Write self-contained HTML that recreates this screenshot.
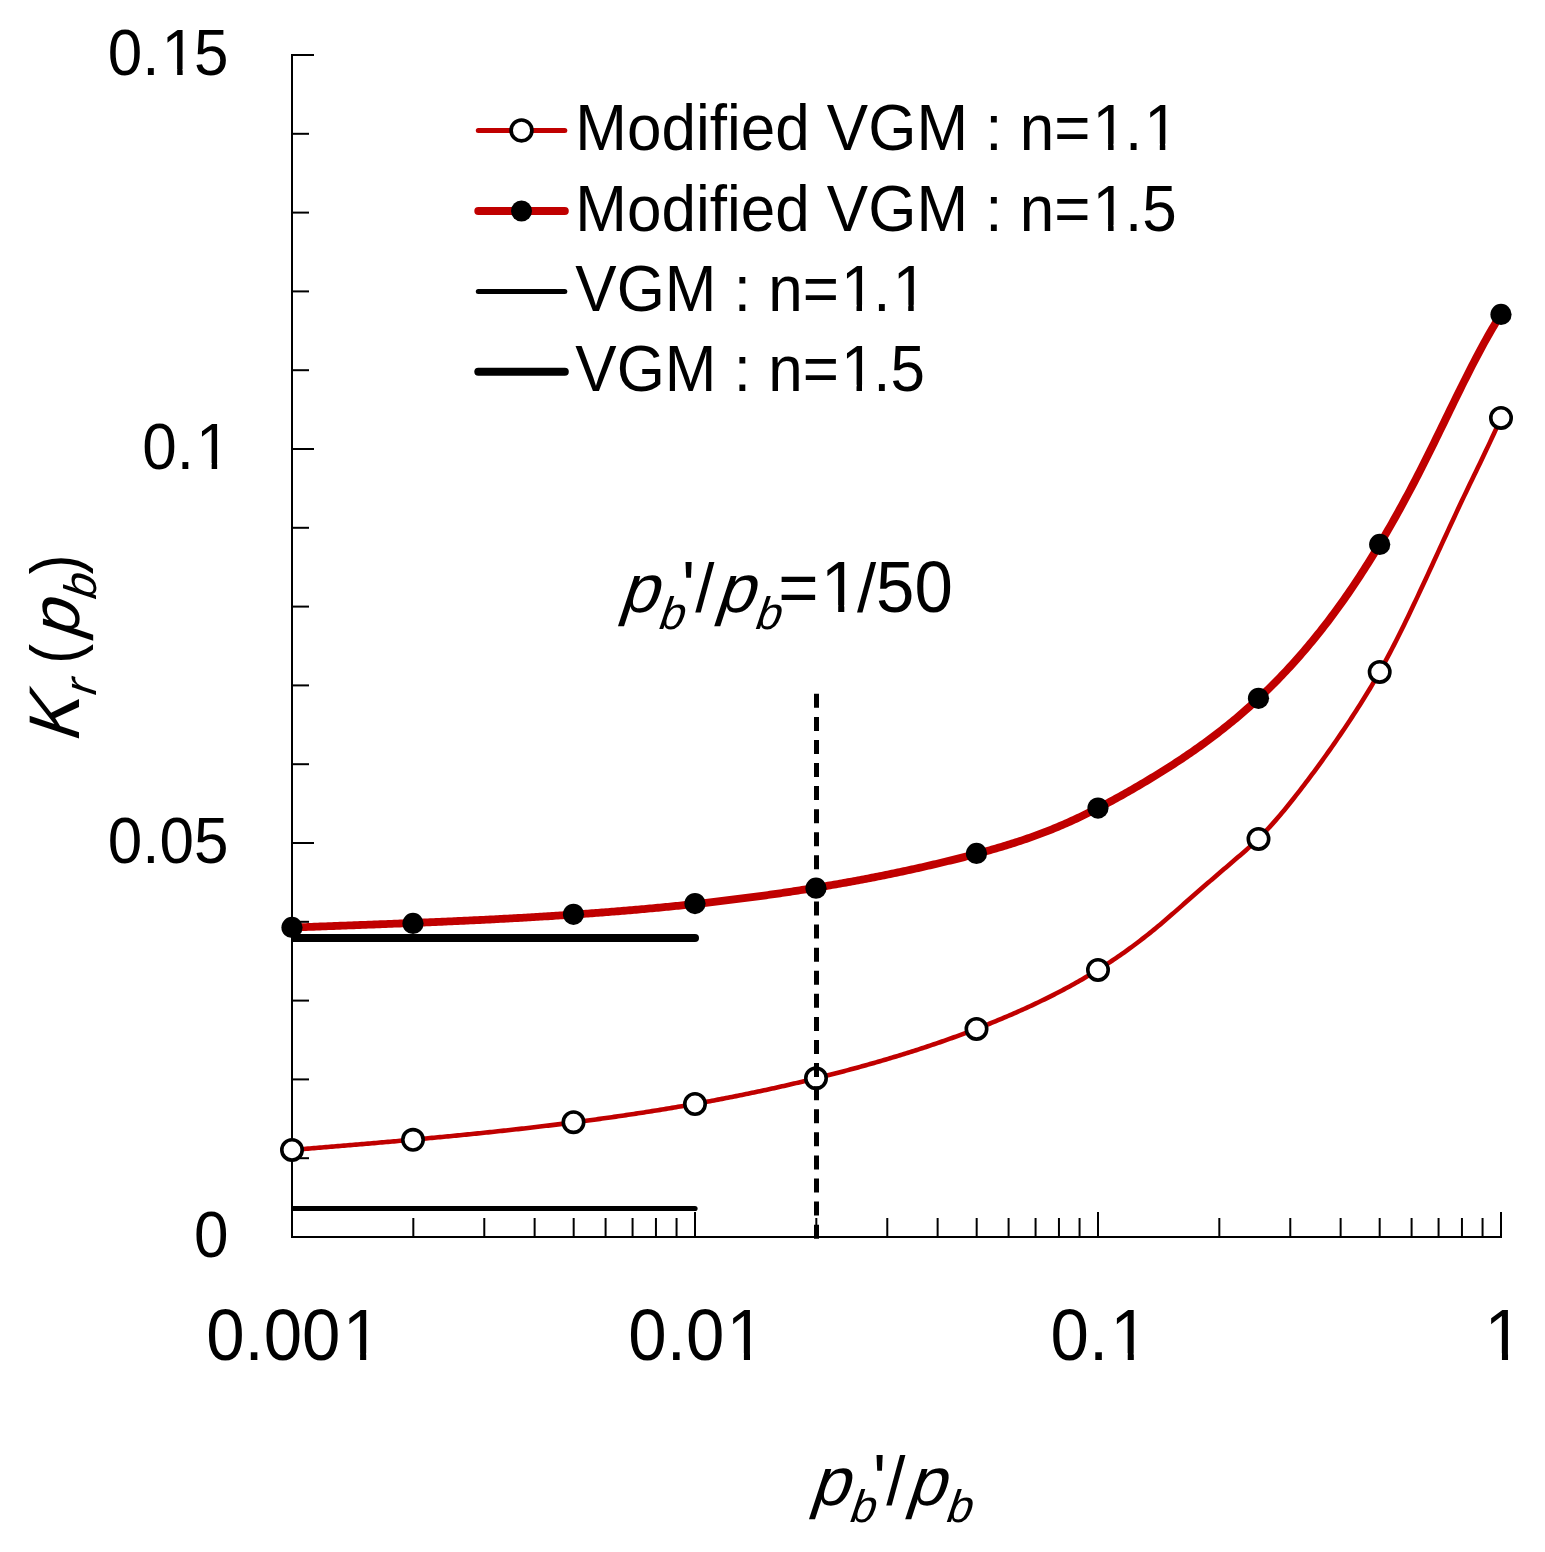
<!DOCTYPE html>
<html><head><meta charset="utf-8"><title>Kr plot</title>
<style>
html,body{margin:0;padding:0;background:#fff;}
svg{display:block;}
text{font-family:"Liberation Sans",Arial,sans-serif;fill:#000;font-kerning:none;white-space:pre;}
</style></head>
<body>
<svg width="1545" height="1552" viewBox="0 0 1545 1552">
<rect width="1545" height="1552" fill="#fff"/>
<defs><clipPath id="one62" clipPathUnits="userSpaceOnUse"><rect x="-20" y="-200" width="102" height="194.17"/><rect x="15.591" y="-20" width="5.479" height="40"/></clipPath><clipPath id="one69" clipPathUnits="userSpaceOnUse"><rect x="-20" y="-200" width="109" height="193.65"/><rect x="17.351" y="-20" width="6.098" height="40"/></clipPath></defs>
<line x1="292.0" y1="54.0" x2="292.0" y2="1238.0" stroke="#000" stroke-width="2"/>
<line x1="291.0" y1="1237.0" x2="1502" y2="1237.0" stroke="#000" stroke-width="2"/>
<line x1="292.0" y1="1158.20" x2="309.0" y2="1158.20" stroke="#000" stroke-width="2"/>
<line x1="292.0" y1="1079.40" x2="309.0" y2="1079.40" stroke="#000" stroke-width="2"/>
<line x1="292.0" y1="1000.60" x2="309.0" y2="1000.60" stroke="#000" stroke-width="2"/>
<line x1="292.0" y1="921.80" x2="309.0" y2="921.80" stroke="#000" stroke-width="2"/>
<line x1="292.0" y1="843.00" x2="314.0" y2="843.00" stroke="#000" stroke-width="2"/>
<line x1="292.0" y1="764.20" x2="309.0" y2="764.20" stroke="#000" stroke-width="2"/>
<line x1="292.0" y1="685.40" x2="309.0" y2="685.40" stroke="#000" stroke-width="2"/>
<line x1="292.0" y1="606.60" x2="309.0" y2="606.60" stroke="#000" stroke-width="2"/>
<line x1="292.0" y1="527.80" x2="309.0" y2="527.80" stroke="#000" stroke-width="2"/>
<line x1="292.0" y1="449.00" x2="314.0" y2="449.00" stroke="#000" stroke-width="2"/>
<line x1="292.0" y1="370.20" x2="309.0" y2="370.20" stroke="#000" stroke-width="2"/>
<line x1="292.0" y1="291.40" x2="309.0" y2="291.40" stroke="#000" stroke-width="2"/>
<line x1="292.0" y1="212.60" x2="309.0" y2="212.60" stroke="#000" stroke-width="2"/>
<line x1="292.0" y1="133.80" x2="309.0" y2="133.80" stroke="#000" stroke-width="2"/>
<line x1="292.0" y1="55.00" x2="314.0" y2="55.00" stroke="#000" stroke-width="2"/>
<line x1="413.32" y1="1237.0" x2="413.32" y2="1218.0" stroke="#000" stroke-width="2"/>
<line x1="484.28" y1="1237.0" x2="484.28" y2="1218.0" stroke="#000" stroke-width="2"/>
<line x1="534.63" y1="1237.0" x2="534.63" y2="1218.0" stroke="#000" stroke-width="2"/>
<line x1="573.68" y1="1237.0" x2="573.68" y2="1218.0" stroke="#000" stroke-width="2"/>
<line x1="605.59" y1="1237.0" x2="605.59" y2="1218.0" stroke="#000" stroke-width="2"/>
<line x1="632.57" y1="1237.0" x2="632.57" y2="1218.0" stroke="#000" stroke-width="2"/>
<line x1="655.95" y1="1237.0" x2="655.95" y2="1218.0" stroke="#000" stroke-width="2"/>
<line x1="676.56" y1="1237.0" x2="676.56" y2="1218.0" stroke="#000" stroke-width="2"/>
<line x1="695.00" y1="1237.0" x2="695.00" y2="1212.0" stroke="#000" stroke-width="2"/>
<line x1="816.32" y1="1237.0" x2="816.32" y2="1218.0" stroke="#000" stroke-width="2"/>
<line x1="887.28" y1="1237.0" x2="887.28" y2="1218.0" stroke="#000" stroke-width="2"/>
<line x1="937.63" y1="1237.0" x2="937.63" y2="1218.0" stroke="#000" stroke-width="2"/>
<line x1="976.68" y1="1237.0" x2="976.68" y2="1218.0" stroke="#000" stroke-width="2"/>
<line x1="1008.59" y1="1237.0" x2="1008.59" y2="1218.0" stroke="#000" stroke-width="2"/>
<line x1="1035.57" y1="1237.0" x2="1035.57" y2="1218.0" stroke="#000" stroke-width="2"/>
<line x1="1058.95" y1="1237.0" x2="1058.95" y2="1218.0" stroke="#000" stroke-width="2"/>
<line x1="1079.56" y1="1237.0" x2="1079.56" y2="1218.0" stroke="#000" stroke-width="2"/>
<line x1="1098.00" y1="1237.0" x2="1098.00" y2="1212.0" stroke="#000" stroke-width="2"/>
<line x1="1219.32" y1="1237.0" x2="1219.32" y2="1218.0" stroke="#000" stroke-width="2"/>
<line x1="1290.28" y1="1237.0" x2="1290.28" y2="1218.0" stroke="#000" stroke-width="2"/>
<line x1="1340.63" y1="1237.0" x2="1340.63" y2="1218.0" stroke="#000" stroke-width="2"/>
<line x1="1379.68" y1="1237.0" x2="1379.68" y2="1218.0" stroke="#000" stroke-width="2"/>
<line x1="1411.59" y1="1237.0" x2="1411.59" y2="1218.0" stroke="#000" stroke-width="2"/>
<line x1="1438.57" y1="1237.0" x2="1438.57" y2="1218.0" stroke="#000" stroke-width="2"/>
<line x1="1461.95" y1="1237.0" x2="1461.95" y2="1218.0" stroke="#000" stroke-width="2"/>
<line x1="1482.56" y1="1237.0" x2="1482.56" y2="1218.0" stroke="#000" stroke-width="2"/>
<line x1="1501.00" y1="1237.0" x2="1501.00" y2="1212.0" stroke="#000" stroke-width="2"/>
<text transform="translate(194.02,1257.00) scale(1,1.05)" font-size="62">0</text>
<text transform="translate(107.83,863.00) scale(1,1.05)" font-size="62">0.05</text>
<text transform="translate(142.31,469.00) scale(1,1.05)" font-size="62">0.</text><text transform="translate(196.06,469.00) scale(1,1.05)" font-size="62" clip-path="url(#one62)">1</text>
<text transform="translate(107.83,75.00) scale(1,1.05)" font-size="62">0.</text><text transform="translate(161.58,75.00) scale(1,1.05)" font-size="62" clip-path="url(#one62)">1</text><text transform="translate(194.02,75.00) scale(1,1.05)" font-size="62">5</text>
<text transform="translate(206.17,1360.00) scale(1,1.045)" font-size="69">0.00</text><text transform="translate(342.74,1360.00) scale(1,1.045)" font-size="69" clip-path="url(#one69)">1</text>
<text transform="translate(628.35,1360.00) scale(1,1.045)" font-size="69">0.0</text><text transform="translate(726.55,1360.00) scale(1,1.045)" font-size="69" clip-path="url(#one69)">1</text>
<text transform="translate(1050.54,1360.00) scale(1,1.045)" font-size="69">0.</text><text transform="translate(1110.36,1360.00) scale(1,1.045)" font-size="69" clip-path="url(#one69)">1</text>
<text transform="translate(1484.59,1360.00) scale(1,1.045)" font-size="69" clip-path="url(#one69)">1</text>
<line x1="291.0" y1="937.9" x2="695" y2="937.9" stroke="#000" stroke-width="8"/><circle cx="695" cy="937.9" r="4" fill="#000"/>
<line x1="291.0" y1="1208.5" x2="695" y2="1208.5" stroke="#000" stroke-width="5.2"/><circle cx="695" cy="1208.5" r="2.6" fill="#000"/>
<path d="M292.0,1149.95 L294.0,1149.79 L296.0,1149.62 L298.0,1149.46 L300.0,1149.29 L302.0,1149.13 L304.0,1148.96 L306.0,1148.80 L308.0,1148.63 L310.0,1148.47 L312.0,1148.30 L314.0,1148.13 L316.0,1147.97 L318.0,1147.80 L320.0,1147.64 L322.0,1147.47 L324.0,1147.31 L326.0,1147.14 L328.0,1146.97 L330.0,1146.81 L332.0,1146.64 L334.0,1146.47 L336.0,1146.31 L338.0,1146.14 L340.0,1145.97 L342.0,1145.81 L344.0,1145.64 L346.0,1145.47 L348.0,1145.30 L350.0,1145.13 L352.0,1144.96 L354.0,1144.80 L356.0,1144.63 L358.0,1144.46 L360.0,1144.29 L362.0,1144.12 L364.0,1143.95 L366.0,1143.78 L368.0,1143.60 L370.0,1143.43 L372.0,1143.26 L374.0,1143.09 L376.0,1142.92 L378.0,1142.74 L380.0,1142.57 L382.0,1142.40 L384.0,1142.22 L386.0,1142.05 L388.0,1141.87 L390.0,1141.70 L392.0,1141.52 L394.0,1141.35 L396.0,1141.17 L398.0,1140.99 L400.0,1140.81 L402.0,1140.63 L404.0,1140.46 L406.0,1140.28 L408.0,1140.10 L410.0,1139.92 L412.0,1139.74 L414.0,1139.55 L416.0,1139.37 L418.0,1139.19 L420.0,1139.01 L422.0,1138.82 L424.0,1138.64 L426.0,1138.45 L428.0,1138.27 L430.0,1138.08 L432.0,1137.89 L434.0,1137.70 L436.0,1137.52 L438.0,1137.33 L440.0,1137.14 L442.0,1136.95 L444.0,1136.76 L446.0,1136.56 L448.0,1136.37 L450.0,1136.18 L452.0,1135.98 L454.0,1135.79 L456.0,1135.59 L458.0,1135.40 L460.0,1135.20 L462.0,1135.00 L464.0,1134.80 L466.0,1134.60 L468.0,1134.40 L470.0,1134.20 L472.0,1134.00 L474.0,1133.80 L476.0,1133.59 L478.0,1133.39 L480.0,1133.18 L482.0,1132.98 L484.0,1132.77 L486.0,1132.56 L488.0,1132.35 L490.0,1132.14 L492.0,1131.93 L494.0,1131.72 L496.0,1131.51 L498.0,1131.29 L500.0,1131.08 L502.0,1130.86 L504.0,1130.64 L506.0,1130.43 L508.0,1130.21 L510.0,1129.99 L512.0,1129.77 L514.0,1129.55 L516.0,1129.32 L518.0,1129.10 L520.0,1128.87 L522.0,1128.65 L524.0,1128.42 L526.0,1128.19 L528.0,1127.96 L530.0,1127.73 L532.0,1127.50 L534.0,1127.27 L536.0,1127.03 L538.0,1126.80 L540.0,1126.56 L542.0,1126.32 L544.0,1126.08 L546.0,1125.84 L548.0,1125.60 L550.0,1125.36 L552.0,1125.12 L554.0,1124.87 L556.0,1124.62 L558.0,1124.38 L560.0,1124.13 L562.0,1123.88 L564.0,1123.63 L566.0,1123.37 L568.0,1123.12 L570.0,1122.86 L572.0,1122.61 L574.0,1122.35 L576.0,1122.09 L578.0,1121.83 L580.0,1121.57 L582.0,1121.30 L584.0,1121.04 L586.0,1120.77 L588.0,1120.51 L590.0,1120.24 L592.0,1119.97 L594.0,1119.69 L596.0,1119.42 L598.0,1119.15 L600.0,1118.87 L602.0,1118.59 L604.0,1118.31 L606.0,1118.03 L608.0,1117.75 L610.0,1117.47 L612.0,1117.18 L614.0,1116.90 L616.0,1116.61 L618.0,1116.32 L620.0,1116.03 L622.0,1115.73 L624.0,1115.44 L626.0,1115.14 L628.0,1114.84 L630.0,1114.55 L632.0,1114.24 L634.0,1113.94 L636.0,1113.64 L638.0,1113.33 L640.0,1113.02 L642.0,1112.71 L644.0,1112.40 L646.0,1112.09 L648.0,1111.78 L650.0,1111.46 L652.0,1111.14 L654.0,1110.82 L656.0,1110.50 L658.0,1110.18 L660.0,1109.86 L662.0,1109.53 L664.0,1109.20 L666.0,1108.87 L668.0,1108.54 L670.0,1108.21 L672.0,1107.87 L674.0,1107.53 L676.0,1107.19 L678.0,1106.85 L680.0,1106.51 L682.0,1106.17 L684.0,1105.82 L686.0,1105.47 L688.0,1105.12 L690.0,1104.77 L692.0,1104.41 L694.0,1104.06 L696.0,1103.70 L698.0,1103.34 L700.0,1102.98 L702.0,1102.61 L704.0,1102.25 L706.0,1101.88 L708.0,1101.51 L710.0,1101.14 L712.0,1100.77 L714.0,1100.39 L716.0,1100.01 L718.0,1099.63 L720.0,1099.25 L722.0,1098.87 L724.0,1098.48 L726.0,1098.09 L728.0,1097.70 L730.0,1097.31 L732.0,1096.92 L734.0,1096.52 L736.0,1096.12 L738.0,1095.72 L740.0,1095.32 L742.0,1094.91 L744.0,1094.51 L746.0,1094.10 L748.0,1093.69 L750.0,1093.27 L752.0,1092.86 L754.0,1092.44 L756.0,1092.02 L758.0,1091.59 L760.0,1091.17 L762.0,1090.74 L764.0,1090.31 L766.0,1089.88 L768.0,1089.45 L770.0,1089.01 L772.0,1088.57 L774.0,1088.13 L776.0,1087.69 L778.0,1087.24 L780.0,1086.80 L782.0,1086.35 L784.0,1085.89 L786.0,1085.44 L788.0,1084.98 L790.0,1084.52 L792.0,1084.06 L794.0,1083.60 L796.0,1083.13 L798.0,1082.66 L800.0,1082.19 L802.0,1081.71 L804.0,1081.24 L806.0,1080.76 L808.0,1080.28 L810.0,1079.79 L812.0,1079.31 L814.0,1078.82 L816.0,1078.33 L818.0,1077.83 L820.0,1077.33 L822.0,1076.84 L824.0,1076.33 L826.0,1075.83 L828.0,1075.32 L830.0,1074.81 L832.0,1074.30 L834.0,1073.79 L836.0,1073.27 L838.0,1072.75 L840.0,1072.23 L842.0,1071.70 L844.0,1071.17 L846.0,1070.64 L848.0,1070.11 L850.0,1069.58 L852.0,1069.04 L854.0,1068.50 L856.0,1067.95 L858.0,1067.41 L860.0,1066.86 L862.0,1066.30 L864.0,1065.75 L866.0,1065.19 L868.0,1064.63 L870.0,1064.07 L872.0,1063.50 L874.0,1062.93 L876.0,1062.36 L878.0,1061.78 L880.0,1061.20 L882.0,1060.62 L884.0,1060.04 L886.0,1059.45 L888.0,1058.86 L890.0,1058.26 L892.0,1057.66 L894.0,1057.06 L896.0,1056.46 L898.0,1055.85 L900.0,1055.24 L902.0,1054.62 L904.0,1054.00 L906.0,1053.38 L908.0,1052.75 L910.0,1052.12 L912.0,1051.49 L914.0,1050.85 L916.0,1050.21 L918.0,1049.57 L920.0,1048.92 L922.0,1048.27 L924.0,1047.61 L926.0,1046.95 L928.0,1046.28 L930.0,1045.62 L932.0,1044.94 L934.0,1044.27 L936.0,1043.59 L938.0,1042.90 L940.0,1042.21 L942.0,1041.52 L944.0,1040.82 L946.0,1040.12 L948.0,1039.41 L950.0,1038.70 L952.0,1037.99 L954.0,1037.27 L956.0,1036.54 L958.0,1035.81 L960.0,1035.08 L962.0,1034.34 L964.0,1033.60 L966.0,1032.85 L968.0,1032.10 L970.0,1031.34 L972.0,1030.58 L974.0,1029.82 L976.0,1029.04 L978.0,1028.27 L980.0,1027.49 L982.0,1026.70 L984.0,1025.91 L986.0,1025.11 L988.0,1024.31 L990.0,1023.51 L992.0,1022.70 L994.0,1021.88 L996.0,1021.06 L998.0,1020.23 L1000.0,1019.40 L1002.0,1018.56 L1004.0,1017.72 L1006.0,1016.87 L1008.0,1016.01 L1010.0,1015.16 L1012.0,1014.29 L1014.0,1013.42 L1016.0,1012.54 L1018.0,1011.66 L1020.0,1010.77 L1022.0,1009.88 L1024.0,1008.98 L1026.0,1008.07 L1028.0,1007.15 L1030.0,1006.23 L1032.0,1005.31 L1034.0,1004.37 L1036.0,1003.43 L1038.0,1002.48 L1040.0,1001.52 L1042.0,1000.55 L1044.0,999.58 L1046.0,998.60 L1048.0,997.61 L1050.0,996.61 L1052.0,995.61 L1054.0,994.59 L1056.0,993.57 L1058.0,992.54 L1060.0,991.50 L1062.0,990.45 L1064.0,989.39 L1066.0,988.32 L1068.0,987.24 L1070.0,986.15 L1072.0,985.05 L1074.0,983.94 L1076.0,982.82 L1078.0,981.69 L1080.0,980.55 L1082.0,979.40 L1084.0,978.24 L1086.0,977.07 L1088.0,975.88 L1090.0,974.69 L1092.0,973.48 L1094.0,972.27 L1096.0,971.04 L1098.0,969.79 L1100.0,968.54 L1102.0,967.28 L1104.0,966.00 L1106.0,964.71 L1108.0,963.41 L1110.0,962.09 L1112.0,960.76 L1114.0,959.42 L1116.0,958.06 L1118.0,956.70 L1120.0,955.32 L1122.0,953.92 L1124.0,952.51 L1126.0,951.09 L1128.0,949.65 L1130.0,948.20 L1132.0,946.74 L1134.0,945.26 L1136.0,943.76 L1138.0,942.25 L1140.0,940.73 L1142.0,939.19 L1144.0,937.63 L1146.0,936.06 L1148.0,934.48 L1150.0,932.88 L1152.0,931.26 L1154.0,929.63 L1156.0,927.98 L1158.0,926.32 L1160.0,924.64 L1162.0,922.95 L1164.0,921.25 L1166.0,919.55 L1168.0,917.83 L1170.0,916.10 L1172.0,914.36 L1174.0,912.62 L1176.0,910.88 L1178.0,909.12 L1180.0,907.37 L1182.0,905.61 L1184.0,903.85 L1186.0,902.08 L1188.0,900.32 L1190.0,898.56 L1192.0,896.80 L1194.0,895.04 L1196.0,893.28 L1198.0,891.53 L1200.0,889.78 L1202.0,888.04 L1204.0,886.31 L1206.0,884.57 L1208.0,882.85 L1210.0,881.12 L1212.0,879.40 L1214.0,877.68 L1216.0,875.96 L1218.0,874.25 L1220.0,872.53 L1222.0,870.82 L1224.0,869.11 L1226.0,867.40 L1228.0,865.69 L1230.0,863.98 L1232.0,862.26 L1234.0,860.55 L1236.0,858.83 L1238.0,857.12 L1240.0,855.39 L1242.0,853.67 L1244.0,851.93 L1246.0,850.17 L1248.0,848.39 L1250.0,846.60 L1252.0,844.77 L1254.0,842.91 L1256.0,841.02 L1258.0,839.09 L1260.0,837.11 L1262.0,835.09 L1264.0,833.03 L1266.0,830.93 L1268.0,828.79 L1270.0,826.61 L1272.0,824.39 L1274.0,822.14 L1276.0,819.86 L1278.0,817.54 L1280.0,815.19 L1282.0,812.81 L1284.0,810.41 L1286.0,807.97 L1288.0,805.52 L1290.0,803.03 L1292.0,800.52 L1294.0,798.00 L1296.0,795.45 L1298.0,792.88 L1300.0,790.30 L1302.0,787.70 L1304.0,785.08 L1306.0,782.45 L1308.0,779.80 L1310.0,777.13 L1312.0,774.45 L1314.0,771.76 L1316.0,769.04 L1318.0,766.31 L1320.0,763.57 L1322.0,760.80 L1324.0,758.02 L1326.0,755.22 L1328.0,752.40 L1330.0,749.57 L1332.0,746.71 L1334.0,743.84 L1336.0,740.95 L1338.0,738.04 L1340.0,735.11 L1342.0,732.16 L1344.0,729.19 L1346.0,726.21 L1348.0,723.20 L1350.0,720.17 L1352.0,717.12 L1354.0,714.05 L1356.0,710.96 L1358.0,707.84 L1360.0,704.69 L1362.0,701.52 L1364.0,698.31 L1366.0,695.06 L1368.0,691.78 L1370.0,688.46 L1372.0,685.10 L1374.0,681.69 L1376.0,678.23 L1378.0,674.73 L1380.0,671.17 L1382.0,667.57 L1384.0,663.91 L1386.0,660.20 L1388.0,656.44 L1390.0,652.64 L1392.0,648.79 L1394.0,644.90 L1396.0,640.97 L1398.0,637.01 L1400.0,633.00 L1402.0,628.96 L1404.0,624.89 L1406.0,620.79 L1408.0,616.65 L1410.0,612.49 L1412.0,608.31 L1414.0,604.10 L1416.0,599.87 L1418.0,595.61 L1420.0,591.34 L1422.0,587.05 L1424.0,582.75 L1426.0,578.43 L1428.0,574.11 L1430.0,569.77 L1432.0,565.43 L1434.0,561.08 L1436.0,556.72 L1438.0,552.37 L1440.0,548.01 L1442.0,543.65 L1444.0,539.30 L1446.0,534.96 L1448.0,530.62 L1450.0,526.29 L1452.0,521.97 L1454.0,517.66 L1456.0,513.37 L1458.0,509.09 L1460.0,504.83 L1462.0,500.59 L1464.0,496.37 L1466.0,492.18 L1468.0,488.00 L1470.0,483.84 L1472.0,479.70 L1474.0,475.56 L1476.0,471.42 L1478.0,467.28 L1480.0,463.13 L1482.0,458.97 L1484.0,454.79 L1486.0,450.59 L1488.0,446.36 L1490.0,442.11 L1492.0,437.81 L1494.0,433.48 L1496.0,429.10 L1498.0,424.68 L1500.0,420.19 L1501.0,417.93" fill="none" stroke="#c00000" stroke-width="4.6" stroke-linejoin="round"/>
<path d="M292.0,927.57 L294.0,927.50 L296.0,927.42 L298.0,927.34 L300.0,927.27 L302.0,927.19 L304.0,927.12 L306.0,927.04 L308.0,926.96 L310.0,926.89 L312.0,926.81 L314.0,926.74 L316.0,926.66 L318.0,926.59 L320.0,926.51 L322.0,926.44 L324.0,926.36 L326.0,926.29 L328.0,926.21 L330.0,926.14 L332.0,926.07 L334.0,925.99 L336.0,925.92 L338.0,925.84 L340.0,925.77 L342.0,925.69 L344.0,925.62 L346.0,925.54 L348.0,925.47 L350.0,925.39 L352.0,925.32 L354.0,925.24 L356.0,925.17 L358.0,925.09 L360.0,925.02 L362.0,924.94 L364.0,924.87 L366.0,924.79 L368.0,924.71 L370.0,924.64 L372.0,924.56 L374.0,924.49 L376.0,924.41 L378.0,924.33 L380.0,924.26 L382.0,924.18 L384.0,924.10 L386.0,924.03 L388.0,923.95 L390.0,923.87 L392.0,923.79 L394.0,923.71 L396.0,923.63 L398.0,923.56 L400.0,923.48 L402.0,923.40 L404.0,923.32 L406.0,923.24 L408.0,923.16 L410.0,923.08 L412.0,923.00 L414.0,922.91 L416.0,922.83 L418.0,922.75 L420.0,922.67 L422.0,922.59 L424.0,922.50 L426.0,922.42 L428.0,922.33 L430.0,922.25 L432.0,922.17 L434.0,922.08 L436.0,921.99 L438.0,921.91 L440.0,921.82 L442.0,921.73 L444.0,921.65 L446.0,921.56 L448.0,921.47 L450.0,921.38 L452.0,921.29 L454.0,921.20 L456.0,921.11 L458.0,921.02 L460.0,920.93 L462.0,920.84 L464.0,920.75 L466.0,920.65 L468.0,920.56 L470.0,920.46 L472.0,920.37 L474.0,920.27 L476.0,920.18 L478.0,920.08 L480.0,919.98 L482.0,919.89 L484.0,919.79 L486.0,919.69 L488.0,919.59 L490.0,919.49 L492.0,919.39 L494.0,919.28 L496.0,919.18 L498.0,919.08 L500.0,918.97 L502.0,918.87 L504.0,918.76 L506.0,918.66 L508.0,918.55 L510.0,918.44 L512.0,918.33 L514.0,918.22 L516.0,918.11 L518.0,918.00 L520.0,917.89 L522.0,917.78 L524.0,917.66 L526.0,917.55 L528.0,917.44 L530.0,917.32 L532.0,917.20 L534.0,917.09 L536.0,916.97 L538.0,916.85 L540.0,916.73 L542.0,916.61 L544.0,916.48 L546.0,916.36 L548.0,916.24 L550.0,916.11 L552.0,915.99 L554.0,915.86 L556.0,915.73 L558.0,915.60 L560.0,915.47 L562.0,915.34 L564.0,915.21 L566.0,915.08 L568.0,914.95 L570.0,914.81 L572.0,914.68 L574.0,914.54 L576.0,914.40 L578.0,914.26 L580.0,914.12 L582.0,913.98 L584.0,913.84 L586.0,913.70 L588.0,913.55 L590.0,913.41 L592.0,913.26 L594.0,913.11 L596.0,912.96 L598.0,912.82 L600.0,912.66 L602.0,912.51 L604.0,912.36 L606.0,912.20 L608.0,912.05 L610.0,911.89 L612.0,911.73 L614.0,911.57 L616.0,911.41 L618.0,911.25 L620.0,911.09 L622.0,910.93 L624.0,910.76 L626.0,910.59 L628.0,910.43 L630.0,910.26 L632.0,910.09 L634.0,909.91 L636.0,909.74 L638.0,909.57 L640.0,909.39 L642.0,909.21 L644.0,909.04 L646.0,908.86 L648.0,908.67 L650.0,908.49 L652.0,908.31 L654.0,908.12 L656.0,907.94 L658.0,907.75 L660.0,907.56 L662.0,907.37 L664.0,907.18 L666.0,906.98 L668.0,906.79 L670.0,906.59 L672.0,906.39 L674.0,906.19 L676.0,905.99 L678.0,905.79 L680.0,905.58 L682.0,905.38 L684.0,905.17 L686.0,904.96 L688.0,904.75 L690.0,904.54 L692.0,904.33 L694.0,904.11 L696.0,903.90 L698.0,903.68 L700.0,903.46 L702.0,903.24 L704.0,903.02 L706.0,902.79 L708.0,902.57 L710.0,902.34 L712.0,902.11 L714.0,901.88 L716.0,901.65 L718.0,901.41 L720.0,901.18 L722.0,900.94 L724.0,900.70 L726.0,900.46 L728.0,900.22 L730.0,899.97 L732.0,899.72 L734.0,899.48 L736.0,899.23 L738.0,898.98 L740.0,898.72 L742.0,898.47 L744.0,898.21 L746.0,897.95 L748.0,897.69 L750.0,897.43 L752.0,897.17 L754.0,896.90 L756.0,896.63 L758.0,896.36 L760.0,896.09 L762.0,895.82 L764.0,895.55 L766.0,895.27 L768.0,894.99 L770.0,894.71 L772.0,894.43 L774.0,894.14 L776.0,893.86 L778.0,893.57 L780.0,893.28 L782.0,892.99 L784.0,892.69 L786.0,892.40 L788.0,892.10 L790.0,891.80 L792.0,891.50 L794.0,891.19 L796.0,890.89 L798.0,890.58 L800.0,890.27 L802.0,889.96 L804.0,889.64 L806.0,889.33 L808.0,889.01 L810.0,888.69 L812.0,888.37 L814.0,888.04 L816.0,887.72 L818.0,887.39 L820.0,887.06 L822.0,886.72 L824.0,886.39 L826.0,886.05 L828.0,885.71 L830.0,885.37 L832.0,885.03 L834.0,884.68 L836.0,884.33 L838.0,883.98 L840.0,883.63 L842.0,883.28 L844.0,882.92 L846.0,882.56 L848.0,882.20 L850.0,881.84 L852.0,881.47 L854.0,881.10 L856.0,880.73 L858.0,880.36 L860.0,879.99 L862.0,879.61 L864.0,879.23 L866.0,878.85 L868.0,878.47 L870.0,878.08 L872.0,877.69 L874.0,877.30 L876.0,876.91 L878.0,876.51 L880.0,876.11 L882.0,875.71 L884.0,875.31 L886.0,874.90 L888.0,874.49 L890.0,874.08 L892.0,873.67 L894.0,873.26 L896.0,872.84 L898.0,872.42 L900.0,872.00 L902.0,871.57 L904.0,871.14 L906.0,870.71 L908.0,870.28 L910.0,869.85 L912.0,869.41 L914.0,868.97 L916.0,868.52 L918.0,868.08 L920.0,867.63 L922.0,867.18 L924.0,866.73 L926.0,866.27 L928.0,865.81 L930.0,865.35 L932.0,864.89 L934.0,864.42 L936.0,863.95 L938.0,863.48 L940.0,863.01 L942.0,862.53 L944.0,862.05 L946.0,861.57 L948.0,861.08 L950.0,860.59 L952.0,860.10 L954.0,859.61 L956.0,859.11 L958.0,858.61 L960.0,858.11 L962.0,857.61 L964.0,857.10 L966.0,856.59 L968.0,856.07 L970.0,855.56 L972.0,855.03 L974.0,854.51 L976.0,853.98 L978.0,853.45 L980.0,852.91 L982.0,852.37 L984.0,851.82 L986.0,851.27 L988.0,850.71 L990.0,850.15 L992.0,849.58 L994.0,849.01 L996.0,848.43 L998.0,847.85 L1000.0,847.26 L1002.0,846.67 L1004.0,846.06 L1006.0,845.45 L1008.0,844.84 L1010.0,844.22 L1012.0,843.59 L1014.0,842.95 L1016.0,842.31 L1018.0,841.66 L1020.0,841.00 L1022.0,840.33 L1024.0,839.66 L1026.0,838.97 L1028.0,838.28 L1030.0,837.58 L1032.0,836.87 L1034.0,836.16 L1036.0,835.43 L1038.0,834.70 L1040.0,833.95 L1042.0,833.20 L1044.0,832.43 L1046.0,831.66 L1048.0,830.88 L1050.0,830.08 L1052.0,829.28 L1054.0,828.46 L1056.0,827.64 L1058.0,826.80 L1060.0,825.96 L1062.0,825.10 L1064.0,824.24 L1066.0,823.36 L1068.0,822.48 L1070.0,821.58 L1072.0,820.68 L1074.0,819.77 L1076.0,818.84 L1078.0,817.91 L1080.0,816.97 L1082.0,816.02 L1084.0,815.06 L1086.0,814.09 L1088.0,813.11 L1090.0,812.12 L1092.0,811.13 L1094.0,810.12 L1096.0,809.11 L1098.0,808.09 L1100.0,807.06 L1102.0,806.02 L1104.0,804.98 L1106.0,803.93 L1108.0,802.86 L1110.0,801.79 L1112.0,800.72 L1114.0,799.63 L1116.0,798.54 L1118.0,797.44 L1120.0,796.33 L1122.0,795.22 L1124.0,794.10 L1126.0,792.97 L1128.0,791.84 L1130.0,790.69 L1132.0,789.54 L1134.0,788.39 L1136.0,787.23 L1138.0,786.06 L1140.0,784.88 L1142.0,783.70 L1144.0,782.51 L1146.0,781.32 L1148.0,780.12 L1150.0,778.91 L1152.0,777.70 L1154.0,776.48 L1156.0,775.26 L1158.0,774.03 L1160.0,772.79 L1162.0,771.54 L1164.0,770.29 L1166.0,769.03 L1168.0,767.76 L1170.0,766.48 L1172.0,765.20 L1174.0,763.90 L1176.0,762.60 L1178.0,761.29 L1180.0,759.97 L1182.0,758.64 L1184.0,757.30 L1186.0,755.95 L1188.0,754.59 L1190.0,753.22 L1192.0,751.84 L1194.0,750.45 L1196.0,749.05 L1198.0,747.64 L1200.0,746.21 L1202.0,744.78 L1204.0,743.33 L1206.0,741.87 L1208.0,740.40 L1210.0,738.91 L1212.0,737.42 L1214.0,735.91 L1216.0,734.38 L1218.0,732.84 L1220.0,731.29 L1222.0,729.73 L1224.0,728.15 L1226.0,726.56 L1228.0,724.95 L1230.0,723.33 L1232.0,721.69 L1234.0,720.04 L1236.0,718.38 L1238.0,716.69 L1240.0,714.99 L1242.0,713.28 L1244.0,711.55 L1246.0,709.80 L1248.0,708.04 L1250.0,706.26 L1252.0,704.46 L1254.0,702.64 L1256.0,700.81 L1258.0,698.96 L1260.0,697.09 L1262.0,695.20 L1264.0,693.30 L1266.0,691.37 L1268.0,689.43 L1270.0,687.47 L1272.0,685.49 L1274.0,683.49 L1276.0,681.47 L1278.0,679.43 L1280.0,677.36 L1282.0,675.28 L1284.0,673.18 L1286.0,671.06 L1288.0,668.91 L1290.0,666.75 L1292.0,664.56 L1294.0,662.35 L1296.0,660.12 L1298.0,657.87 L1300.0,655.59 L1302.0,653.29 L1304.0,650.97 L1306.0,648.63 L1308.0,646.26 L1310.0,643.87 L1312.0,641.46 L1314.0,639.02 L1316.0,636.55 L1318.0,634.07 L1320.0,631.55 L1322.0,629.02 L1324.0,626.46 L1326.0,623.87 L1328.0,621.26 L1330.0,618.62 L1332.0,615.95 L1334.0,613.26 L1336.0,610.54 L1338.0,607.80 L1340.0,605.03 L1342.0,602.23 L1344.0,599.41 L1346.0,596.55 L1348.0,593.67 L1350.0,590.77 L1352.0,587.83 L1354.0,584.86 L1356.0,581.87 L1358.0,578.85 L1360.0,575.80 L1362.0,572.72 L1364.0,569.61 L1366.0,566.47 L1368.0,563.30 L1370.0,560.11 L1372.0,556.89 L1374.0,553.63 L1376.0,550.35 L1378.0,547.04 L1380.0,543.70 L1382.0,540.34 L1384.0,536.94 L1386.0,533.52 L1388.0,530.06 L1390.0,526.58 L1392.0,523.07 L1394.0,519.54 L1396.0,515.97 L1398.0,512.37 L1400.0,508.75 L1402.0,505.10 L1404.0,501.42 L1406.0,497.71 L1408.0,493.98 L1410.0,490.21 L1412.0,486.42 L1414.0,482.60 L1416.0,478.75 L1418.0,474.87 L1420.0,470.97 L1422.0,467.03 L1424.0,463.07 L1426.0,459.08 L1428.0,455.07 L1430.0,451.04 L1432.0,446.99 L1434.0,442.92 L1436.0,438.84 L1438.0,434.74 L1440.0,430.64 L1442.0,426.53 L1444.0,422.42 L1446.0,418.30 L1448.0,414.19 L1450.0,410.08 L1452.0,405.98 L1454.0,401.88 L1456.0,397.80 L1458.0,393.73 L1460.0,389.67 L1462.0,385.64 L1464.0,381.62 L1466.0,377.63 L1468.0,373.67 L1470.0,369.74 L1472.0,365.83 L1474.0,361.96 L1476.0,358.13 L1478.0,354.34 L1480.0,350.58 L1482.0,346.87 L1484.0,343.21 L1486.0,339.60 L1488.0,336.03 L1490.0,332.53 L1492.0,329.07 L1494.0,325.68 L1496.0,322.35 L1498.0,319.08 L1500.0,315.88 L1501.0,314.31" fill="none" stroke="#c00000" stroke-width="7.8" stroke-linejoin="round"/>
<circle cx="292" cy="1149.9" r="10.2" fill="#fff" stroke="#000" stroke-width="3.6"/>
<circle cx="413" cy="1139.8" r="10.2" fill="#fff" stroke="#000" stroke-width="3.6"/>
<circle cx="573.5" cy="1122.2" r="10.2" fill="#fff" stroke="#000" stroke-width="3.6"/>
<circle cx="695" cy="1104.0" r="10.2" fill="#fff" stroke="#000" stroke-width="3.6"/>
<circle cx="816" cy="1078.3" r="10.2" fill="#fff" stroke="#000" stroke-width="3.6"/>
<circle cx="976.5" cy="1028.9" r="10.2" fill="#fff" stroke="#000" stroke-width="3.6"/>
<circle cx="1098" cy="969.9" r="10.2" fill="#fff" stroke="#000" stroke-width="3.6"/>
<circle cx="1258.5" cy="838.9" r="10.2" fill="#fff" stroke="#000" stroke-width="3.6"/>
<circle cx="1379.7" cy="671.9" r="10.2" fill="#fff" stroke="#000" stroke-width="3.6"/>
<circle cx="1501" cy="417.9" r="10.2" fill="#fff" stroke="#000" stroke-width="3.6"/>
<circle cx="292" cy="927.4" r="10.6" fill="#000"/>
<circle cx="413" cy="923.4" r="10.6" fill="#000"/>
<circle cx="573.5" cy="914.3" r="10.6" fill="#000"/>
<circle cx="695" cy="903.6" r="10.6" fill="#000"/>
<circle cx="816" cy="888.2" r="10.6" fill="#000"/>
<circle cx="976.5" cy="853.4" r="10.6" fill="#000"/>
<circle cx="1098" cy="808.1" r="10.6" fill="#000"/>
<circle cx="1258.5" cy="698.3" r="10.6" fill="#000"/>
<circle cx="1379.7" cy="544.4" r="10.6" fill="#000"/>
<circle cx="1501" cy="314.4" r="10.6" fill="#000"/>
<line x1="816.5" y1="693.8" x2="816.5" y2="1238.7" stroke="#000" stroke-width="5" stroke-dasharray="14 9.08"/>
<line x1="478.3" y1="130.4" x2="564.8" y2="130.4" stroke="#c00000" stroke-width="5" stroke-linecap="round"/>
<circle cx="521.5" cy="130.4" r="10.4" fill="#fff" stroke="#000" stroke-width="3.7"/>
<line x1="478.3" y1="211.0" x2="564.8" y2="211.0" stroke="#c00000" stroke-width="8" stroke-linecap="round"/>
<circle cx="521.5" cy="211.0" r="10.5" fill="#000"/>
<line x1="478.3" y1="291.4" x2="564.8" y2="291.4" stroke="#000" stroke-width="5" stroke-linecap="round"/>
<line x1="478.3" y1="371.8" x2="564.8" y2="371.8" stroke="#000" stroke-width="8" stroke-linecap="round"/>
<text transform="translate(575.30,149.90) scale(1,1.045)" font-size="62">Modified VGM : n=</text><text transform="translate(1092.51,149.90) scale(1,1.045)" font-size="62" clip-path="url(#one62)">1</text><text transform="translate(1124.94,149.90) scale(1,1.045)" font-size="62">.</text><text transform="translate(1144.22,149.90) scale(1,1.045)" font-size="62" clip-path="url(#one62)">1</text>
<text transform="translate(575.30,231.00) scale(1,1.045)" font-size="62">Modified VGM : n=</text><text transform="translate(1092.51,231.00) scale(1,1.045)" font-size="62" clip-path="url(#one62)">1</text><text transform="translate(1124.94,231.00) scale(1,1.045)" font-size="62">.5</text>
<text transform="translate(575.30,310.80) scale(1,1.045)" font-size="62">VGM : n=</text><text transform="translate(840.94,310.80) scale(1,1.045)" font-size="62" clip-path="url(#one62)">1</text><text transform="translate(873.37,310.80) scale(1,1.045)" font-size="62">.</text><text transform="translate(892.64,310.80) scale(1,1.045)" font-size="62" clip-path="url(#one62)">1</text>
<text transform="translate(575.30,390.80) scale(1,1.045)" font-size="62">VGM : n=</text><text transform="translate(840.94,390.80) scale(1,1.045)" font-size="62" clip-path="url(#one62)">1</text><text transform="translate(873.37,390.80) scale(1,1.045)" font-size="62">.5</text>
<text transform="translate(618.00,611.70) skewX(-18.3) scale(1,0.99)" font-size="69">p</text><text transform="translate(656.37,628.70) skewX(-18.3) scale(1,0.99)" font-size="46">b</text><text transform="translate(681.96,611.70) scale(1,1.04)" font-size="69">&#39;</text><text transform="translate(695.13,611.70) scale(1,0.98)" font-size="69">/</text><text transform="translate(714.30,611.70) skewX(-18.3) scale(1,0.99)" font-size="69">p</text><text transform="translate(752.68,628.70) skewX(-18.3) scale(1,0.99)" font-size="46">b</text><text transform="translate(778.26,611.70) scale(1,1.04)" font-size="69">=</text><text transform="translate(820.83,611.70) scale(1,1.04)" font-size="69" clip-path="url(#one69)">1</text><text transform="translate(856.93,611.70) scale(1,0.98)" font-size="69">/</text><text transform="translate(876.10,611.70) scale(1,1.04)" font-size="69">50</text>
<text transform="translate(809.00,1505.00) skewX(-18.3) scale(1,0.99)" font-size="69">p</text><text transform="translate(847.37,1522.00) skewX(-18.3) scale(1,0.99)" font-size="46">b</text><text transform="translate(872.96,1505.00) scale(1,1.04)" font-size="69">&#39;</text><text transform="translate(886.13,1505.00) scale(1,0.98)" font-size="69">/</text><text transform="translate(905.30,1505.00) skewX(-18.3) scale(1,0.99)" font-size="69">p</text><text transform="translate(943.68,1522.00) skewX(-18.3) scale(1,0.99)" font-size="46">b</text>
<g transform="translate(78.8,744.2) rotate(-90)"><text transform="translate(0.00,0.00) skewX(-18.3) scale(1,1.04)" font-size="69">K</text><text transform="translate(46.02,17.00) skewX(-18.3) scale(1,0.99)" font-size="46">r</text><text transform="translate(80.51,0) scale(0.86,1.0)" font-size="69">(</text><text transform="translate(103.49,0.00) skewX(-18.3) scale(1,0.99)" font-size="69">p</text><text transform="translate(141.86,17.00) skewX(-18.3) scale(1,0.99)" font-size="46">b</text><text transform="translate(169.95,0) scale(0.86,1.0)" font-size="69">)</text></g>
</svg>
</body></html>
